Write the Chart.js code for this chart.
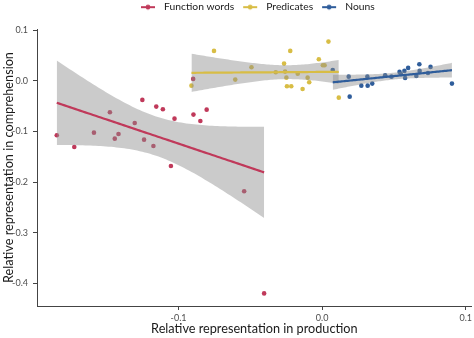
<!DOCTYPE html>
<html><head><meta charset="utf-8">
<script src="https://cdn.jsdelivr.net/npm/chart.js@4/dist/chart.umd.min.js"></script>
<style>html,body{margin:0;padding:0;background:#fff}</style>
</head><body>
<canvas id="c" width="474" height="338" style="display:block;width:474px;height:338px"></canvas>
<script>
// ---------- data ----------
const seriesNames = ['Function words', 'Predicates', 'Nouns'];
const seriesColors = ['#C0395A', '#D8BD45', '#2F5D9B'];

const fwX = [-0.1848,-0.1726,-0.1589,-0.1478,-0.1444,-0.1418,-0.1305,-0.1252,-0.1240,-0.1175,-0.1155,-0.1109,-0.1053,-0.1028,-0.0896,-0.0848,-0.0804,-0.0898,-0.0543,-0.0404];
const fwY = [-0.1073,-0.1304,-0.1021,-0.0619,-0.1140,-0.1047,-0.0830,-0.0375,-0.1160,-0.1285,-0.0507,-0.0560,-0.1680,-0.0745,-0.0665,-0.0790,-0.0567,0.0040,-0.2180,-0.4196];

const predX = [-0.0910,-0.0753,-0.0605,-0.0492,-0.0323,-0.0265,-0.0258,-0.0249,-0.0245,-0.0222,-0.0215,-0.0170,-0.0136,-0.0101,-0.0090,-0.0023,0.0005,0.0017,0.0044,0.0116];
const predY = [-0.0093,0.0593,0.0026,0.0271,0.0172,0.0342,0.0184,0.0065,-0.0105,0.0593,-0.0105,0.0144,-0.0158,0.0065,-0.0026,0.0429,0.0310,0.0310,0.0777,-0.0330];

const nounX = [0.0074,0.0185,0.0192,0.0273,0.0315,0.0317,0.0349,0.0439,0.0483,0.0539,0.0548,0.0573,0.0578,0.0599,0.0656,0.0677,0.0679,0.0737,0.0755,0.0904];
const nounY = [0.0217,0.0085,-0.0310,-0.0093,0.0085,-0.0093,-0.0053,0.0113,0.0085,0.0178,0.0138,0.0198,0.0059,0.0257,0.0099,0.0330,0.0198,0.0158,0.0277,-0.0053];

const xTicks = [-0.1, 0.0, 0.1];
const yTicks = [0.1, 0.0, -0.1, -0.2, -0.3, -0.4];
const xTitle = 'Relative representation in production';
const yTitle = 'Relative representation in comprehension';

// ---------- helpers ----------
function tq975(df){ // Cornish-Fisher approximation of Student t 0.975 quantile
  const z = 1.959964;
  return z + (z**3 + z)/(4*df) + (5*z**5 + 16*z**3 + 3*z)/(96*df*df)
           + (3*z**7 + 19*z**5 + 17*z**3 - 15*z)/(384*df**3);
}
function lmSmooth(xs, ys, steps){
  const n = xs.length;
  const mx = xs.reduce((a,b)=>a+b,0)/n, my = ys.reduce((a,b)=>a+b,0)/n;
  let sxx=0, sxy=0;
  for (let i=0;i<n;i++){ sxx += (xs[i]-mx)**2; sxy += (xs[i]-mx)*(ys[i]-my); }
  const b = sxy/sxx, a = my - b*mx;
  let sse = 0; for (let i=0;i<n;i++) sse += (ys[i]-a-b*xs[i])**2;
  const s = Math.sqrt(sse/(n-2)), t = tq975(n-2);
  const x0 = Math.min(...xs), x1 = Math.max(...xs);
  const line=[], hi=[], lo=[];
  for (let k=0;k<=steps;k++){
    const x = x0 + (x1-x0)*k/steps, y = a + b*x;
    const h = t*s*Math.sqrt(1/n + (x-mx)**2/sxx);
    line.push({x, y}); hi.push({x, y:y+h}); lo.push({x, y:y-h});
  }
  return {line, hi, lo};
}
const pts = (xs, ys) => xs.map((x,i)=>({x, y: ys[i]}));

const groups = [[fwX,fwY],[predX,predY],[nounX,nounY]];
const allX = [].concat(fwX,predX,nounX), allY = [].concat(fwY,predY,nounY);
const xr = [Math.min(...allX), Math.max(...allX)], yr = [Math.min(...allY), Math.max(...allY)];
const xPad = (xr[1]-xr[0])*0.05, yPad = (yr[1]-yr[0])*0.05;

const FONT = 'Lato, "Open Sans", sans-serif';
const BAND = 'rgba(140,140,140,0.45)';

const datasets = [];
groups.forEach(([xs,ys], g) => {
  datasets.push({ label: seriesNames[g], data: pts(xs,ys), showLine:false, pointRadius:2.3, pointHoverRadius:2.3,
    pointBackgroundColor: seriesColors[g], pointBorderWidth:0, order:3 });
});
groups.forEach(([xs,ys], g) => {
  const sm = lmSmooth(xs, ys, 80);
  datasets.push({ label: seriesNames[g]+' CI high', data: sm.hi, showLine:true, borderWidth:0, pointRadius:0,
    backgroundColor: BAND, fill: '+1', order:2, tension:0 });
  datasets.push({ label: seriesNames[g]+' CI low', data: sm.lo, showLine:true, borderWidth:0, pointRadius:0,
    fill: false, order:2, tension:0 });
  datasets.push({ label: seriesNames[g]+' fit', data: sm.line, showLine:true, borderWidth:2.2, borderColor: seriesColors[g],
    pointRadius:0, fill:false, order:1, tension:0 });
});

function legendSymbol(color){
  const c = document.createElement('canvas');
  c.width = 25; c.height = 10;
  const x = c.getContext('2d');
  x.strokeStyle = color; x.lineWidth = 2;
  x.beginPath(); x.moveTo(7,5); x.lineTo(21,5); x.stroke();
  x.fillStyle = color; x.beginPath(); x.arc(14,5,2.4,0,Math.PI*2); x.fill();
  return c;
}
const symbols = seriesColors.map(legendSymbol);

const legendHeight = {
  id: 'legendHeight',
  beforeInit(chart){
    const orig = chart.legend.fit;
    chart.legend.fit = function(){ orig.call(this); this.height = 29; };
  }
};

new Chart(document.getElementById('c'), {
  type: 'line',
  data: { datasets },
  plugins: [legendHeight],
  options: {
    responsive: false, animation: false, events: [],
    layout: { padding: 0 },
    plugins: {
      tooltip: { enabled:false },
      legend: {
        position: 'top', fullSize: false,
        labels: {
          usePointStyle: true, pointStyleWidth: 25, padding: 2,
          font: { family: FONT, size: 10.3 }, color: '#1a1a1a',
          generateLabels: () => seriesNames.map((n,i)=>({ text: n, pointStyle: symbols[i], fillStyle: seriesColors[i],
            strokeStyle: seriesColors[i], lineWidth: 0, hidden:false, datasetIndex:i, fontColor:'#1a1a1a' }))
        }
      }
    },
    scales: {
      x: {
        type: 'linear', min: xr[0]-xPad, max: xr[1]+xPad,
        afterBuildTicks: s => { s.ticks = xTicks.map(v=>({value:v})); },
        afterFit: s => { s.height = 32; s.paddingLeft = 0; s.paddingRight = 0; },
        ticks: { callback: v => v.toFixed(1), font: { family: FONT, size: 9 }, color: '#4D4D4D', padding: 3, maxRotation:0, autoSkip:false },
        grid: { drawOnChartArea:false, drawTicks:true, tickLength:4, color:'#444' },
        border: { display:true, color:'#444', width:1 },
        title: { display:true, text: xTitle, font: { family: FONT, size: 12.7 }, color:'#1a1a1a', padding: {top:0, bottom:1.5} }
      },
      y: {
        type: 'linear', min: yr[0]-yPad, max: yr[1]+yPad,
        afterBuildTicks: s => { s.ticks = yTicks.map(v=>({value:v})); },
        afterFit: s => { s.width = 37; s.paddingTop = 0; s.paddingBottom = 0; },
        ticks: { callback: v => v.toFixed(1), font: { family: FONT, size: 9 }, color: '#4D4D4D', padding: 5, autoSkip:false },
        grid: { drawOnChartArea:false, drawTicks:true, tickLength:4, color:'#444' },
        border: { display:true, color:'#444', width:1 },
        title: { display:true, text: yTitle, font: { family: FONT, size: 12.7 }, color:'#1a1a1a', padding: {top:1, bottom:0} }
      }
    }
  }
});
</script>
</body></html>
